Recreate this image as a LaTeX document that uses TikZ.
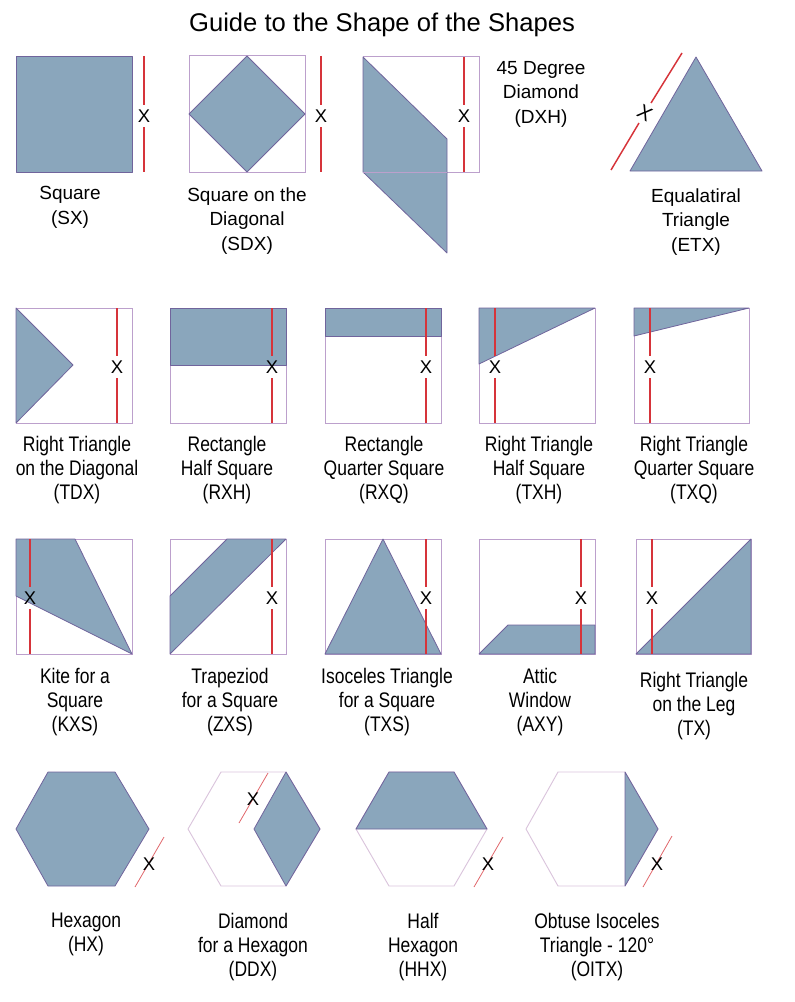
\documentclass[tikz,border=0pt]{standalone}
\usepackage{fontspec}
\setmainfont{Liberation Sans}
\newfontfamily\narrowsans[FakeStretch=0.83]{Liberation Sans}
\usepackage{tikz}
\definecolor{shapeblue}{RGB}{138,166,188}
\definecolor{shapeedge}{RGB}{112,100,156}
\definecolor{boxpurple}{RGB}{188,160,204}
\definecolor{hexpink}{RGB}{218,196,220}
\definecolor{measurered}{RGB}{214,52,58}

\begin{document}
\begin{tikzpicture}[
                    x=0.75pt, y=-0.75pt,
                    shape fill/.style={
                        fill=shapeblue,
                        draw=shapeedge,
                        line width=0.6pt,
                        line join=round
                    },
                    box line/.style={draw=boxpurple, line width=0.75pt},
                    hex line/.style={draw=hexpink, line width=0.7pt, line join=round},
                    measure line/.style={draw=measurered, line width=1.1pt},
                    hex measure/.style={draw=measurered!75, line width=0.6pt},
                    x mark/.style={
                        font=\fontsize{13.8}{16}\selectfont,
                        inner xsep=1pt,
                        inner ysep=3.4pt
                    },
                    title text/.style={font=\fontsize{19.2}{23}\selectfont, inner sep=0pt},
                    wide label/.style={
                        align=center,
                        anchor=north,
                        inner sep=0pt,
                        font=\fontsize{14.25}{18.4}\selectfont
                    },
                    narrow label/.style={
                        align=center,
                        anchor=north,
                        inner sep=0pt,
                        font=\narrowsans\fontsize{15.8}{18}\selectfont
                    }
                ]
    \useasboundingbox (0,0) rectangle (794,1002);

    \node[title text, anchor=base] (title) at (382,32) {Guide to the Shape of the Shapes};

    % row 1
    \draw[shape fill] (16,56) rectangle (132,172);
    \draw[box line] (189,56) rectangle (305,172);
    \draw[shape fill] (247,56) -- (305,114) -- (247,172) -- (189,114) -- cycle;
    \draw[box line] (363,57) rectangle (479,172);
    \draw[shape fill] (363,57) -- (447,139) -- (447,253) -- (363,172) -- cycle;
    \draw[box line] (363,172) -- (447,172);
    \draw[shape fill] (630,171) -- (762,171) -- (696,57) -- cycle;

    % row 2
    \draw[box line] (16,308) rectangle (132,423);
    \draw[shape fill] (16,308) -- (73,365) -- (16,423) -- cycle;
    \draw[box line] (170,308) rectangle (286,423);
    \draw[shape fill] (170,308) rectangle (286,365);
    \draw[box line] (325,308) rectangle (441,423);
    \draw[shape fill] (325,308) rectangle (441,336);
    \draw[box line] (479,308) rectangle (595,423);
    \draw[shape fill] (479,308) -- (595,308) -- (479,364) -- cycle;
    \draw[box line] (634,308) rectangle (749,423);
    \draw[shape fill] (634,308) -- (749,308) -- (634,336) -- cycle;

    % row 3
    \draw[box line] (16,539) rectangle (132,654);
    \draw[shape fill] (16,539) -- (75,539) -- (132,654) -- (16,596) -- cycle;
    \draw[box line] (170,539) rectangle (286,654);
    \draw[shape fill] (170,654) -- (170,596) -- (227,539) -- (286,539) -- cycle;
    \draw[box line] (325,539) rectangle (441,654);
    \draw[shape fill] (325,654) -- (383,539) -- (441,654) -- cycle;
    \draw[box line] (479,539) rectangle (595,654);
    \draw[shape fill] (479,654) -- (508,625) -- (595,625) -- (595,654) -- cycle;
    \draw[box line] (636,539) rectangle (751,654);
    \draw[shape fill] (636,654) -- (751,539) -- (751,654) -- cycle;

    \foreach \nm/\xx/\yy/\ya/\yb in {sx/144/116/56/172, sdx/321/116/56/172, dxh/464/116/57/172,
                                     tdx/117/367/308/423, rxh/272/367/308/423, rxq/426/367/308/423,
                                     txh/495/367/308/423, txq/650/367/308/423,
                                     kxs/30/598/539/654, zxs/272/598/539/654, txs/426/598/539/654,
                                     axy/581/598/539/654, tx/652/598/539/654}{
        \node[x mark] (\nm X) at (\xx,\yy) {X};
        \coordinate (\nm top) at (\xx,\ya);
        \coordinate (\nm bot) at (\xx,\yb);
        \draw[measure line] (\nm top) -- (\nm X.north) (\nm X.south) -- (\nm bot);
    }

    \node[x mark, rotate=-31, font=\fontsize{15}{17}\selectfont] (etxX) at (645,113) {X};
    \coordinate (etx low) at (611,170);
    \coordinate (etx high) at (682,53);
    \draw[measure line] (etx low) -- (etxX.south) (etxX.north) -- (etx high);

    % row 4
    \draw[shape fill] (48,772) -- (115,772) -- (149,829) -- (115,886) -- (48,886) -- (16,829) -- cycle;
    \draw[hex line] (221,772) -- (286,772) -- (320,829) -- (286,886) -- (221,886) -- (188,829) -- cycle;
    \draw[shape fill] (286,772) -- (320,829) -- (286,886) -- (254,829) -- cycle;
    \draw[hex line] (389,772) -- (454,772) -- (487,829) -- (454,886) -- (389,886) -- (356,829) -- cycle;
    \draw[shape fill] (389,772) -- (454,772) -- (487,829) -- (356,829) -- cycle;
    \draw[hex line] (558,772) -- (625,772) -- (658,829) -- (625,886) -- (558,886) -- (526,829) -- cycle;
    \draw[shape fill] (625,772) -- (658,829) -- (625,886) -- cycle;

    \foreach \nm/\xa/\ya/\xb/\yb/\xx/\yy in {hx/135/887/164/837/149/864, ddx/239/823/268/773/253/799,
                                             hhx/474/887/503/837/488/864, oitx/643/887/672/836/657/864}{
        \coordinate (\nm low) at (\xa,\ya);
        \coordinate (\nm high) at (\xb,\yb);
        \draw[hex measure] (\nm low) -- (\nm high);
        \node[x mark] (\nm X) at (\xx,\yy) {X};
    }

    % names
    \node[wide label] (sxname) at (70,186) {Square\\(SX)};
    \node[wide label] (sdxname) at (247,187) {Square on the\\Diagonal\\(SDX)};
    \node[wide label] (dxhname) at (541,61) {45 Degree\\Diamond\\(DXH)};
    \node[wide label] (etxname) at (696,188) {Equalatiral\\Triangle\\(ETX)};

    \node[narrow label] (tdxname) at (77,436) {Right Triangle\\on the Diagonal\\(TDX)};
    \node[narrow label] (rxhname) at (227,436) {Rectangle\\Half Square\\(RXH)};
    \node[narrow label] (rxqname) at (384,436) {Rectangle\\Quarter Square\\(RXQ)};
    \node[narrow label] (txhname) at (539,436) {Right Triangle\\Half Square\\(TXH)};
    \node[narrow label] (txqname) at (694,436) {Right Triangle\\Quarter Square\\(TXQ)};

    \node[narrow label] (kxsname) at (75,668) {Kite for a\\Square\\(KXS)};
    \node[narrow label] (zxsname) at (230,668) {Trapeziod\\for a Square\\(ZXS)};
    \node[narrow label] (txsname) at (387,668) {Isoceles Triangle\\for a Square\\(TXS)};
    \node[narrow label] (axyname) at (540,668) {Attic\\Window\\(AXY)};
    \node[narrow label] (txname) at (694,672) {Right Triangle\\on the Leg\\(TX)};

    \node[narrow label] (hxname) at (86,913) {Hexagon\\(HX)};
    \node[narrow label] (ddxname) at (253,913) {Diamond\\for a Hexagon\\(DDX)};
    \node[narrow label] (hhxname) at (423,913) {Half\\Hexagon\\(HHX)};
    \node[narrow label] (oitxname) at (597,913) {Obtuse Isoceles\\Triangle - 120°\\(OITX)};
\end{tikzpicture}
\end{document}
